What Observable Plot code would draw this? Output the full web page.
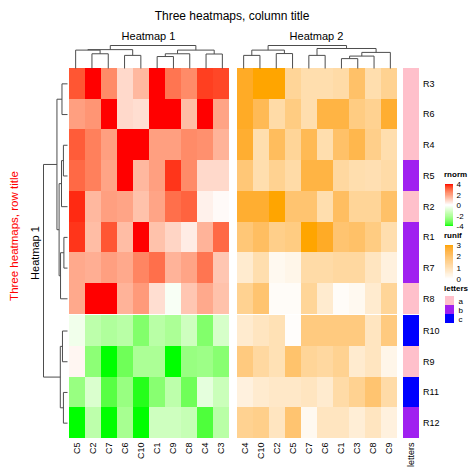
<!DOCTYPE html>
<html>
<head>
<meta charset="utf-8">
<script src="https://cdn.jsdelivr.net/npm/d3@7"></script>
<script src="https://cdn.jsdelivr.net/npm/@observablehq/plot@0.6"></script>
<style>
  body { margin: 0; background: #fff; }
  #fig { position: relative; width: 474px; height: 474px; overflow: hidden;
         font-family: "Liberation Sans", Arial, Helvetica, sans-serif; background: #fff; }
  #fig > * { position: absolute; }
  .lbl { white-space: nowrap; line-height: 1; color: #000; }
</style>
</head>
<body>
<div id="fig"></div>
<script>
// Row order after clustering, and the k-means slice each row falls in
const rows = ["R3", "R6", "R4", "R5", "R2", "R1", "R7", "R8", "R10", "R9", "R11", "R12"];
const rowSlice = [0, 0, 0, 0, 0, 0, 0, 0, 1, 1, 1, 1];

// Column orders of the two heatmaps
const cols1 = ["C5", "C2", "C7", "C6", "C10", "C1", "C9", "C8", "C4", "C3"];
const cols2 = ["C4", "C10", "C2", "C5", "C7", "C6", "C1", "C3", "C8", "C9"];

// rnorm matrix, rows as above, columns as cols1
const rnorm = [
  [ 3.3,  4.2,  2.4,  0.8,  1.5,  4.3,  2.8,  2.4,  3.6,  3.5],
  [ 2.0,  2.2,  4.1,  0.8,  0.7,  4.2,  4.0,  1.4,  4.0,  1.9],
  [ 3.2,  2.6,  2.0,  4.3,  4.4,  2.0,  2.0,  2.4,  2.3,  1.6],
  [ 3.0,  2.6,  1.9,  4.1,  1.5,  2.0,  3.7,  2.4,  0.8,  0.8],
  [ 3.8,  1.5,  2.0,  1.9,  1.3,  1.9,  2.9,  3.1,  0.3,  0.1],
  [ 3.7,  1.4,  3.3,  1.4,  4.2,  1.3,  0.9,  0.4,  1.6,  3.0],
  [ 1.8,  1.7,  2.0,  1.8,  2.5,  2.9,  1.6,  1.9,  2.8,  1.2],
  [ 1.8,  4.3,  4.3,  1.6,  2.1,  0.7, -0.2,  1.2,  1.8,  1.3],
  [-0.4, -1.7, -2.0, -1.8, -2.9, -1.8, -2.1, -1.3, -2.9, -1.1],
  [ 0.2, -2.7, -4.2, -3.2, -2.1, -2.1, -5.0, -2.5, -2.4, -2.8],
  [-2.5, -1.0, -3.5, -2.5, -3.9, -2.8, -1.7, -3.2, -0.7, -1.4],
  [-4.8, -1.7, -4.6, -2.2, -4.8, -1.3, -1.3, -1.5, -3.6, -1.8]
];

// runif matrix, rows as above, columns as cols2
const runif = [
  [2.8, 3.0, 3.0, 1.4, 1.1, 1.1, 1.2, 2.05, 1.1, 1.5],
  [2.8, 2.3, 1.2, 1.7, 1.1, 2.5, 2.5, 1.7, 1.5, 2.7],
  [2.7, 1.1, 2.2, 1.4, 2.3, 1.1, 2.05, 2.4, 1.6, 1.1],
  [1.85, 1.1, 1.5, 1.2, 2.5, 2.5, 1.3, 1.1, 1.05, 1.2],
  [2.7, 2.7, 3.0, 1.95, 1.95, 1.1, 2.15, 1.4, 1.4, 2.05],
  [1.85, 2.15, 1.6, 1.7, 3.0, 2.8, 1.95, 2.05, 1.7, 1.1],
  [0.65, 1.1, 0.2, 0.3, 1.2, 1.2, 1.3, 1.3, 0.85, 0.45],
  [1.5, 1.95, 0.1, 0.1, 1.4, 0.65, 0.1, 0.2, 0.65, 1.4],
  [0.65, 0.85, 1.0, 0.05, 1.75, 1.75, 1.75, 1.75, 0.85, 1.75],
  [1.75, 1.3, 1.0, 2.0, 1.4, 1.3, 1.5, 0.65, 0.85, 0.3],
  [0.45, 0.65, 0.75, 0.75, 0.85, 0.65, 1.2, 1.5, 1.95, 1.2],
  [1.5, 1.6, 0.85, 1.95, 0.2, 0.85, 0.85, 0.55, 0.85, 0.45]
];

// Letter annotation per row
const letters = ["a", "a", "a", "b", "a", "b", "b", "a", "c", "a", "c", "b"];
const letterKeys = ["a", "b", "c"];
const letterColors = ["pink", "#A020F0", "blue"];

// Dendrograms as merge lists [left, right, height]:
// strings are leaves, numbers point to an earlier merge
const rowTree = [
  ["R3", "R6", 0.23], ["R4", "R5", 0.17], [1, "R2", 0.25], ["R1", "R7", 0.15],
  [3, "R8", 0.29], [2, 4, 0.35], [0, 5, 0.44],
  ["R10", "R9", 0.21], ["R11", "R12", 0.17], [7, 8, 0.30],
  [6, 9, 1.0]
];
const colTree1 = [
  ["C2", "C7", 0.64], ["C5", 0, 0.80], ["C6", "C10", 0.57], [1, 2, 0.82],
  ["C1", "C9", 0.52], [4, "C8", 0.64], ["C4", "C3", 0.63], [5, 6, 0.80],
  [3, 7, 1.0]
];
const colTree2 = [
  ["C4", "C10", 0.57], ["C2", "C5", 0.65], [0, 1, 0.80],
  ["C7", "C6", 0.57], ["C1", "C3", 0.43], [4, "C8", 0.54], [5, "C9", 0.70],
  [3, 6, 0.87], [2, 7, 1.0]
];

// Legend ticks
const rnormTicks = [-4, -2, 0, 2, 4];
const runifTicks = [0, 1, 2, 3];

// ---- colour scales ----
const rnormColor = {type: "linear", domain: [-4, 0, 4], range: ["#00ff00", "#ffffff", "#ff0000"],
                    interpolate: "lab", clamp: true};
const runifColor = {type: "linear", domain: [0, 3], range: ["#ffffff", "#ffa500"],
                    interpolate: "lab", clamp: true};
const letterColor = {type: "ordinal", domain: letterKeys, range: letterColors};

// ---- layout ----
const FONT = '"Liberation Sans", Arial, Helvetica, sans-serif';
const BODY_TOP = 68, BODY_H = 370, COL_W = 16.3;
const H1_LEFT = 67, H2_LEFT = 235, ANNO_LEFT = 402.7, ANNO_W = 16.6;
const GAP = 0.05;                                   // space between row slices, in rows
const slot = rows.map((r, i) => i + rowSlice[i] * GAP);
const TOTAL = rows.length + GAP;
const style = {fontFamily: FONT, fontSize: "9px", background: "none", overflow: "visible"};
const fig = document.getElementById("fig");
const plain = (d) => String(d);

function place(el, left, top) {
  el.style.position = "absolute";
  el.style.left = left + "px";
  el.style.top = top + "px";
  el.style.maxWidth = "none";
  fig.appendChild(el);
  return el;
}

function label(text, x, y, {size = 12, weight = "normal", color = "#000", rotate = 0, anchor = "middle"} = {}) {
  const d = document.createElement("div");
  d.className = "lbl";
  d.textContent = text;
  d.style.fontSize = size + "px";
  d.style.fontWeight = weight;
  d.style.color = color;
  const tx = anchor === "start" ? "0" : "-50%";
  d.style.transform = `translate(${tx}, -50%) rotate(${rotate}deg)`;
  d.style.transformOrigin = anchor === "start" ? "0 50%" : "50% 50%";
  return place(d, x, y);
}

// Elbow segments of a dendrogram; pos maps a leaf name to its position
function treeSegments(merges, pos) {
  const nodes = [], segs = [];
  const get = (k) => typeof k === "number" ? nodes[k] : {p: pos(k), h: 0};
  for (const [a, b, h] of merges) {
    const A = get(a), B = get(b);
    segs.push({p1: A.p, h1: A.h, p2: A.p, h2: h});
    segs.push({p1: B.p, h1: B.h, p2: B.p, h2: h});
    segs.push({p1: A.p, h1: h, p2: B.p, h2: h});
    nodes.push({p: (A.p + B.p) / 2, h});
  }
  return segs;
}

function cells(cols, mat) {
  return rows.flatMap((r, i) => cols.map((c, j) => ({
    row: r, col: c, value: mat[i][j], y1: slot[i], y2: slot[i] + 1
  })));
}

// Heatmap body with rotated column names underneath
function bodyPlot(cols, mat, color) {
  return Plot.plot({
    width: COL_W * cols.length, height: BODY_H + 40,
    marginTop: 0, marginBottom: 40, marginLeft: 0, marginRight: 0,
    style,
    x: {domain: cols, padding: 0},
    y: {domain: [0, TOTAL], reverse: true, axis: null},
    color,
    marks: [
      Plot.barY(cells(cols, mat), {x: "col", y1: "y1", y2: "y2", fill: "value", inset: 0,
                                   shapeRendering: "crispEdges"}),
      Plot.axisX({anchor: "bottom", label: null, tickRotate: -90, tickSize: 0, tickPadding: 4,
                  textAnchor: "end"})
    ]
  });
}

// Column dendrogram drawn above a heatmap body
function colTreePlot(cols, tree) {
  const segs = treeSegments(tree, (name) => cols.indexOf(name) + 0.5);
  return Plot.plot({
    width: COL_W * cols.length, height: 28,
    marginTop: 5, marginBottom: 0, marginLeft: 0, marginRight: 0,
    style,
    x: {domain: [0, cols.length], axis: null},
    y: {domain: [0, 1], axis: null},
    marks: [Plot.link(segs, {x1: "p1", x2: "p2", y1: "h1", y2: "h2", stroke: "#4d4d4d", strokeWidth: 1})]
  });
}

// ---- row dendrogram ----
const rowSegs = treeSegments(rowTree, (name) => slot[rows.indexOf(name)] + 0.5);
place(Plot.plot({
  width: 27, height: BODY_H,
  marginTop: 0, marginBottom: 0, marginLeft: 3, marginRight: 0,
  style,
  x: {domain: [0, 1], reverse: true, axis: null},
  y: {domain: [0, TOTAL], reverse: true, axis: null},
  marks: [Plot.link(rowSegs, {x1: "h1", x2: "h2", y1: "p1", y2: "p2", stroke: "#4d4d4d", strokeWidth: 1})]
}), 40, BODY_TOP);

// ---- heatmap bodies and column dendrograms ----
place(bodyPlot(cols1, rnorm, rnormColor), H1_LEFT, BODY_TOP);
place(bodyPlot(cols2, runif, runifColor), H2_LEFT, BODY_TOP);
place(colTreePlot(cols1, colTree1), H1_LEFT, 40);
place(colTreePlot(cols2, colTree2), H2_LEFT, 40);

// ---- letters annotation with row names ----
const annoData = rows.map((r, i) => ({row: r, col: "letters", letter: letters[i], y1: slot[i], y2: slot[i] + 1}));
const rowAt = new Map(rows.map((r, i) => [slot[i] + 0.5, r]));
place(Plot.plot({
  width: ANNO_W + 26, height: BODY_H + 40,
  marginTop: 0, marginBottom: 40, marginLeft: 0, marginRight: 26,
  style,
  x: {domain: ["letters"], padding: 0},
  y: {domain: [0, TOTAL], reverse: true},
  color: letterColor,
  marks: [
    Plot.barY(annoData, {x: "col", y1: "y1", y2: "y2", fill: "letter", inset: 0, shapeRendering: "crispEdges"}),
    Plot.axisX({anchor: "bottom", label: null, tickRotate: -90, tickSize: 0, tickPadding: 4, textAnchor: "end"}),
    Plot.axisY({anchor: "right", label: null, ticks: [...rowAt.keys()], tickFormat: (d) => rowAt.get(d),
                tickSize: 0, tickPadding: 3})
  ]
}), ANNO_LEFT, BODY_TOP);

// ---- legends ----
const LEG_X = 445;
const legStyle = {...style, fontSize: "8px"};

label("rnorm", LEG_X - 1, 175, {size: 8, weight: "bold", anchor: "start"});
const stepN = 0.1;
place(Plot.plot({
  width: 30, height: 50, marginTop: 4, marginBottom: 4, marginLeft: 0, marginRight: 22,
  style: legStyle,
  x: {domain: [0, 1], axis: null},
  y: {domain: [-4, 4]},
  color: rnormColor,
  marks: [
    Plot.rect(d3.range(-4, 4, stepN), {x1: 0, x2: 1, y1: (d) => d, y2: (d) => d + stepN,
              fill: (d) => d + stepN / 2, shapeRendering: "crispEdges"}),
    Plot.axisY({anchor: "right", label: null, ticks: rnormTicks, tickFormat: plain, tickSize: 0, tickPadding: 3})
  ]
}), LEG_X, 180);

label("runif", LEG_X - 1, 236, {size: 8, weight: "bold", anchor: "start"});
const stepU = 0.05;
place(Plot.plot({
  width: 30, height: 42, marginTop: 4, marginBottom: 4, marginLeft: 0, marginRight: 22,
  style: legStyle,
  x: {domain: [0, 1], axis: null},
  y: {domain: [0, 3]},
  color: runifColor,
  marks: [
    Plot.rect(d3.range(0, 3, stepU), {x1: 0, x2: 1, y1: (d) => d, y2: (d) => d + stepU,
              fill: (d) => d + stepU / 2, shapeRendering: "crispEdges"}),
    Plot.axisY({anchor: "right", label: null, ticks: runifTicks, tickFormat: plain, tickSize: 0, tickPadding: 3})
  ]
}), LEG_X, 241);

label("letters", LEG_X - 1, 289, {size: 8, weight: "bold", anchor: "start"});
place(Plot.plot({
  width: 30, height: 27, marginTop: 0, marginBottom: 0, marginLeft: 0, marginRight: 21,
  style: legStyle,
  x: {domain: ["key"], padding: 0, axis: null},
  y: {domain: letterKeys, padding: 0},
  color: letterColor,
  marks: [
    Plot.cell(letterKeys, {x: () => "key", y: (d) => d, fill: (d) => d, inset: 0}),
    Plot.axisY({anchor: "right", label: null, tickSize: 0, tickPadding: 4})
  ]
}), LEG_X, 296);

// ---- titles ----
label("Three heatmaps, column title", 232, 16, {size: 12});
label("Heatmap 1", H1_LEFT + COL_W * 5, 36, {size: 11});
label("Heatmap 2", H2_LEFT + COL_W * 5, 36, {size: 11});
label("Heatmap 1", 35, 253, {size: 11, rotate: -90});
label("Three heatmaps, row title", 15, 236, {size: 11.5, rotate: -90, color: "#f00"});
</script>
</body>
</html>
